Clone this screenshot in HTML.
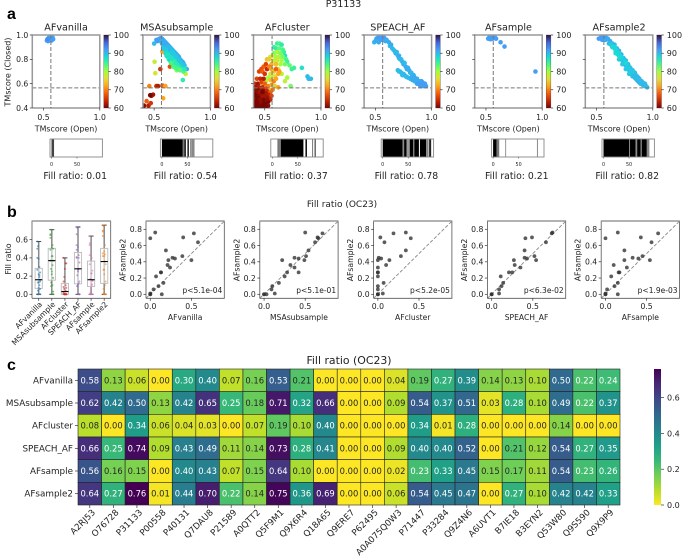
<!DOCTYPE html>
<html>
<head>
<meta charset="utf-8">
<title>Fill ratio figure P31133</title>
<style>
html,body{margin:0;padding:0;background:#fff;width:685px;height:560px;overflow:hidden}
svg{display:block;font-family:"DejaVu Sans","Liberation Sans",sans-serif;filter:blur(0.3px)}
.tag{font-family:"Liberation Sans",sans-serif;font-weight:bold;font-size:16px;fill:#000}
</style>
</head>
<body>
<svg id="fig" xmlns="http://www.w3.org/2000/svg" width="685" height="560" viewBox="0 0 685 560">
<defs id="defs"></defs>
<text class="tag" x="7" y="19">a</text>
<text class="tag" x="7" y="217">b</text>
<text class="tag" x="7" y="370">c</text>
<text x="343.5" y="7" font-size="9.4" text-anchor="middle" fill="#222">P31133</text>
<text x="342" y="207" font-size="9" text-anchor="middle" fill="#222">Fill ratio (OC23)</text>
<text x="349" y="364" font-size="10.9" text-anchor="middle" fill="#222">Fill ratio (OC23)</text>
<text transform="translate(10.5,72) rotate(-90)" font-size="8" text-anchor="middle" fill="#222">TMscore (Closed)</text>
</svg>
<script>
const methods = ['AFvanilla','MSAsubsample','AFcluster','SPEACH_AF','AFsample','AFsample2'];
const proteins = ['A2RJ53','O76728','P31133','P00558','P40131','Q7DAU8','P21589','A0QTT2','Q5F9M1','Q9X6R4','Q18A65','Q9ERE7','P62495','A0A075Q0W3','P71447','P33284','Q9Z4N6','A6UVT1','B7IE18','B3EYN2','Q53W80','Q9S590','Q9X9P9'];
const fillAFvanilla = [.58,.13,.06,.00,.30,.40,.07,.16,.53,.21,.00,.00,.00,.04,.19,.27,.39,.14,.13,.10,.50,.22,.24];
const fillMSAsubsample = [.62,.42,.50,.13,.42,.65,.25,.18,.71,.32,.66,.00,.00,.09,.54,.37,.51,.03,.28,.10,.49,.22,.37];
const fillAFcluster = [.08,.00,.34,.06,.04,.03,.00,.07,.19,.10,.40,.00,.00,.00,.34,.01,.28,.00,.00,.00,.14,.00,.00];
const fillSPEACH = [.66,.25,.74,.09,.43,.49,.11,.14,.73,.28,.41,.00,.00,.09,.40,.40,.52,.00,.21,.12,.54,.27,.35];
const fillAFsample = [.56,.16,.15,.00,.40,.43,.07,.15,.64,.10,.00,.00,.00,.02,.23,.33,.45,.15,.17,.11,.54,.23,.26];
const fillAFsample2 = [.64,.27,.76,.01,.44,.70,.22,.14,.75,.36,.69,.00,.00,.06,.54,.45,.47,.00,.27,.10,.42,.42,.33];
const fillRatioLabels = ['0.01','0.54','0.37','0.78','0.21','0.82'];
const pValues = ['p<5.1e-04','p<5.1e-01','p<5.2e-05','p<6.3e-02','p<1.9e-03'];
const referenceTM = [0.565];
const tmTicks = [0.5,1.0];
const tmYTicks = [0.4,0.6,0.8,1.0];
const plddtTicks = [60,70,80,90,100];
const stripTicks = [0,50];
const boxTicks = [0,0.2,0.4,0.6];
const scatterXTicks = [0,0.5];
const scatterYTicks = [0,0.2,0.4,0.6,0.8];
const heatBarTicks = [0,0.2,0.4,0.6];

/* [TMscore open, TMscore closed, pLDDT] */
const vanillaModels = [[.53,.955,92],[.54,.97,92],[.55,.96,92],[.56,.975,92],[.57,.97,92],[.58,.98,91],[.55,.98,92],[.54,.95,92],[.57,.955,92],[.535,.965,93],[.565,.985,92],[.585,.965,92]];
const msaModels = [[.52,.96,92],[.54,.965,92],[.55,.97,92],[.56,.975,92],[.53,.95,92],[.57,.97,91],[.58,.96,91],[.59,.95,91],[.6,.94,91],[.61,.93,91],[.62,.92,91],[.63,.91,91],[.64,.9,91],[.65,.89,90],[.66,.88,90],[.67,.87,90],[.68,.86,90],[.69,.85,91],[.7,.84,91],[.71,.83,91],[.72,.82,91],[.73,.8,91],[.74,.79,90],[.75,.78,91],[.76,.77,91],[.77,.75,90],[.79,.72,91],[.57,.93,91],[.58,.91,90],[.59,.9,90],[.6,.89,89],[.61,.88,89],[.62,.86,88],[.63,.85,89],[.64,.84,88],[.65,.83,89],[.66,.82,88],[.67,.81,87],[.68,.8,88],[.69,.79,88],[.7,.78,88],[.71,.77,89],[.72,.76,88],[.59,.87,89],[.6,.85,88],[.61,.83,87],[.62,.82,88],[.63,.8,86],[.64,.79,88],[.66,.78,86],[.67,.76,85],[.68,.77,87],[.7,.75,85],[.73,.74,85],[.75,.71,86],[.5,.93,90],[.573,.864,72],[.504,.78,78],[.555,.72,65],[.51,.686,77],[.64,.74,67],[.70,.71,81],[.755,.63,86],[.78,.68,78],[.68,.78,75],[.457,.58,70],[.433,.457,68],[.41,.42,61],[.45,.42,63],[.47,.44,65],[.475,.50,62],[.49,.51,62],[.52,.58,64],[.535,.58,63],[.573,.585,68],[.6,.58,72],[.58,.48,72],[.465,.505,60],[.56,.95,91],[.58,.94,91],[.6,.92,91],[.62,.9,90],[.64,.88,90],[.66,.86,89],[.68,.84,89],[.7,.82,89],[.72,.79,89],[.74,.77,89],[.76,.75,89],[.6,.875,88],[.62,.84,87],[.64,.82,87],[.66,.8,87],[.68,.78,86],[.7,.76,86],[.72,.74,86],[.74,.72,86],[.65,.77,84],[.67,.74,84],[.69,.73,84],[.71,.72,84],[.73,.71,83],[.76,.7,84],[.77,.72,86],[.58,.89,89],[.59,.885,89]];
const clusterModels = [[.58,.9,85],[.61,.93,85],[.63,.93,84],[.65,.92,86],[.6,.89,86],[.63,.89,83],[.66,.88,84],[.67,.86,85],[.58,.85,82],[.61,.86,80],[.64,.85,82],[.68,.83,87],[.55,.82,76],[.57,.83,78],[.6,.82,80],[.63,.82,79],[.66,.82,82],[.69,.8,84],[.52,.8,74],[.54,.8,75],[.58,.79,77],[.61,.79,77],[.65,.79,80],[.7,.78,85],[.68,.76,82],[.72,.75,83],[.64,.76,80],[.6,.76,74],[.56,.76,73],[.74,.72,85],[.76,.73,85],[.83,.73,87],[.88,.66,90],[.89,.64,90],[.91,.64,90],[.73,.58,82],[.68,.62,78],[.7,.65,80],[.65,.68,78],[.62,.72,76],[.63,.7,72],[.49,.74,68],[.51,.76,66],[.47,.72,67],[.45,.7,66],[.48,.7,68],[.52,.72,64],[.5,.68,65],[.54,.74,70],[.56,.72,72],[.58,.7,74],[.6,.72,68],[.62,.68,72],[.55,.68,76],[.57,.66,78],[.59,.66,76],[.53,.65,80],[.51,.62,78],[.55,.63,74],[.58,.62,70],[.6,.64,72],[.43,.64,66],[.46,.64,64],[.49,.64,63],[.41,.6,64],[.44,.6,62],[.47,.61,66],[.5,.6,68],[.53,.58,70],[.56,.59,72],[.59,.58,75],[.62,.57,72],[.42,.57,62],[.45,.57,63],[.48,.57,64],[.51,.56,66],[.54,.55,74],[.41,.54,60],[.43,.55,61],[.45,.54,60],[.47,.55,62],[.49,.54,61],[.52,.54,64],[.55,.53,68],[.57,.55,70],[.41,.52,61],[.43,.52,60],[.45,.51,60],[.47,.52,61],[.49,.51,60],[.51,.52,62],[.53,.51,63],[.56,.5,66],[.41,.49,60],[.43,.49,60],[.45,.49,61],[.47,.49,60],[.49,.48,60],[.51,.49,61],[.53,.48,62],[.55,.47,64],[.41,.47,61],[.43,.46,60],[.45,.46,60],[.47,.46,60],[.49,.46,60],[.51,.46,61],[.53,.45,60],[.41,.44,60],[.43,.44,60],[.45,.43,60],[.47,.44,61],[.49,.43,60],[.51,.43,60],[.53,.42,61],[.41,.41,60],[.43,.41,60],[.45,.41,60],[.47,.41,60],[.49,.41,60],[.51,.41,60],[.44,.48,60],[.46,.47,61],[.48,.5,62],[.5,.47,60],[.52,.47,61],[.44,.53,61],[.46,.53,62],[.48,.53,60],[.5,.5,62]];
const speachModels = [[.49,.94,90],[.5,.95,91],[.51,.97,91],[.52,.975,92],[.53,.985,92],[.55,.99,92],[.57,.985,92],[.58,.975,92],[.6,.96,91],[.62,.94,91],[.53,.94,91],[.54,.96,92],[.56,.96,92],[.63,.91,90],[.65,.89,90],[.67,.87,91],[.68,.85,91],[.7,.83,90],[.71,.81,90],[.72,.8,90],[.74,.78,91],[.75,.76,91],[.77,.74,91],[.78,.72,91],[.8,.71,91],[.81,.69,91],[.83,.67,92],[.85,.65,91],[.86,.64,91],[.88,.62,91],[.9,.6,92],[.92,.59,92],[.93,.58,92],[.94,.6,92],[.91,.62,91],[.89,.61,91],[.7,.71,90],[.71,.7,90],[.73,.69,90],[.75,.68,90],[.77,.66,91],[.79,.65,91],[.81,.64,90],[.83,.63,91],[.85,.62,91],[.87,.6,91],[.9,.58,92],[.64,.92,91],[.66,.88,90],[.69,.86,90],[.71,.83,91],[.73,.8,90],[.76,.77,90],[.79,.73,91],[.82,.69,90],[.84,.67,91],[.87,.64,91],[.89,.62,91],[.92,.61,92],[.52,.95,91],[.55,.97,92],[.59,.95,91],[.76,.67,90],[.78,.655,90],[.82,.65,91],[.84,.64,91],[.88,.6,92],[.91,.58,92],[.95,.58,92],[.72,.7,90],[.74,.67,90]];
const sampleModels = [[.52,.97,92],[.53,.98,92],[.55,.99,92],[.57,.99,92],[.58,.98,92],[.59,.97,92],[.56,.97,92],[.54,.965,92],[.63,.94,92],[.665,.905,92],[.94,.70,92]];
const sample2Models = [[.52,.97,92],[.54,.98,92],[.56,.99,92],[.58,.985,92],[.6,.97,91],[.62,.95,91],[.64,.93,90],[.65,.91,90],[.66,.89,89],[.67,.87,89],[.68,.86,90],[.69,.84,89],[.7,.83,89],[.71,.81,90],[.72,.8,90],[.73,.79,90],[.74,.78,90],[.75,.76,90],[.76,.75,90],[.77,.74,90],[.78,.73,90],[.79,.71,90],[.8,.7,90],[.81,.69,89],[.82,.68,90],[.83,.66,90],[.84,.65,90],[.85,.64,90],[.86,.63,91],[.87,.62,91],[.88,.61,91],[.89,.6,90],[.9,.6,90],[.91,.59,90],[.93,.58,90],[.95,.57,90],[.66,.92,90],[.68,.89,90],[.7,.87,91],[.72,.84,91],[.74,.81,90],[.76,.79,90],[.78,.76,91],[.8,.73,91],[.82,.71,91],[.84,.69,91],[.86,.66,91],[.88,.64,91],[.9,.62,91],[.92,.6,91],[.55,.96,92],[.58,.96,91],[.61,.93,90],[.64,.9,89],[.67,.85,88],[.7,.8,89],[.73,.76,89],[.76,.72,89],[.79,.68,89],[.82,.66,90],[.63,.92,89],[.65,.9,87],[.67,.88,87],[.69,.85,87],[.71,.82,87],[.73,.81,89],[.75,.78,89],[.77,.76,89],[.79,.74,89],[.81,.71,88],[.83,.69,89],[.85,.67,89],[.87,.65,90],[.89,.62,90],[.91,.61,90],[.93,.6,90],[.94,.58,90],[.66,.9,88],[.68,.87,88],[.7,.85,88],[.72,.82,88],[.74,.79,89],[.76,.77,88],[.78,.74,89],[.8,.72,89],[.82,.7,89],[.84,.67,90],[.86,.65,90],[.88,.63,90],[.9,.61,90]];
const modelSets = [vanillaModels,msaModels,clusterModels,speachModels,sampleModels,sample2Models];

/* [first residue, last residue, grey level] for each coverage barcode */
const stripVanilla = [[0,5,'#444']];
const stripMsa = [[0,41,'#000'],[41,44,'#777'],[44,47,'#111'],[50,53,'#222'],[56,58,'#333'],[59,64,'#888']];
const stripCluster = [[10,15,'#777'],[16,61,'#000'],[65,68,'#111'],[78,80,'#777'],[83,85,'#222']];
const stripSpeach = [[0,39,'#000'],[39,42,'#888'],[42,47,'#000'],[47,53,'#999'],[53,60,'#000'],[60,62,'#888'],[62,71,'#000'],[73,85,'#000'],[85,90,'#888'],[91,95,'#222']];
const stripSample = [[0,7,'#000'],[7,12,'#777'],[24,25.5,'#777'],[86,87.5,'#666']];
const stripSample2 = [[0,50,'#000'],[50,52,'#888'],[52,63,'#000'],[63,66,'#888'],[66,73,'#000'],[73,75,'#888'],[75,85,'#000'],[85,90,'#888']];
const stripSets = [stripVanilla,stripMsa,stripCluster,stripSpeach,stripSample,stripSample2];

const boxColors = ['#1f77b4','#2ca02c','#d62728','#9467bd','#e377c2','#ff7f0e'];
const fillRows = [fillAFvanilla,fillMSAsubsample,fillAFcluster,fillSPEACH,fillAFsample,fillAFsample2];

const turboStops = ['#30123b','#4662d8','#449df7','#19d9d9','#46f884','#a4fc3c','#e1dd37','#fea31c','#f25c0d','#c72803','#7a0403'];
const viridisStops = ['#fde725','#b5de2b','#6ece58','#35b779','#1f9e89','#26828e','#31688e','#3e4989','#482878','#440154'];

const svg = document.getElementById('fig');
const defs = document.getElementById('defs');
const NS = 'http://www.w3.org/2000/svg';
const INK = '#222';

function node(parent, tag, attrs, name) {
  const el = document.createElementNS(NS, tag);
  
  
  for (const k in attrs) {
    el.setAttribute(k, attrs[k]);
  }
  parent.appendChild(el);
  return el;
}
function label(parent, x, y, str, size, anchor, name, extra) {
  const el = node(parent, 'text', Object.assign({x: x, y: y, 'font-size': size, 'text-anchor': anchor, fill: INK}, extra || {}), name);
  el.textContent = str;
  return el;
}
function scale(d0, d1, r0, r1) {
  return function (v) { return r0 + (v - d0) / (d1 - d0) * (r1 - r0); };
}
function hex(c) { return [1,3,5].map(function (i) { return parseInt(c.substr(i, 2), 16); }); }
function ramp(stops, t) {
  t = Math.max(0, Math.min(1, t)) * (stops.length - 1);
  const i = Math.min(stops.length - 2, Math.floor(t));
  const a = hex(stops[i]);
  const b = hex(stops[i + 1]);
  const f = t - i;
  return 'rgb(' + a.map(function (v, k) { return Math.round(v + (b[k] - v) * f); }).join(',') + ')';
}
function gradient(id, stops, name) {
  const g = node(defs, 'linearGradient', {id: id, x1: 0, y1: 1, x2: 0, y2: 0}, name);
  stops.forEach(function (s, i) {
    node(g, 'stop', {offset: i / (stops.length - 1), 'stop-color': s}, name + '-stop');
  });
}
function quantile(values, q) {
  const s = values.slice().sort(function (a, b) { return a - b; });
  const p = (s.length - 1) * q;
  const i = Math.floor(p);
  return s[i] + (s[Math.min(i + 1, s.length - 1)] - s[i]) * (p - i);
}
gradient('turbo-grad', turboStops.slice().reverse(), 'turbo-gradient');
gradient('viridis-grad', viridisStops, 'viridis-gradient');

/* ---------- panel a ---------- */
methods.forEach(function (m, i) {
  const slug = m.toLowerCase().replace('_', '-');
  const g = node(svg, 'g', {}, 'tmscore-panel-' + slug);
  const L = 32.3 + i * 110.6, R = L + 67.5, T = 35, B = 108;
  const x = scale(0.4, 1.0, L, R);
  const y = scale(0.4, 1.0, B, T);
  const clip = node(defs, 'clipPath', {id: 'clip-a' + i}, 'clip-' + slug);
  node(clip, 'rect', {x: L, y: T, width: R - L, height: B - T}, 'clip-rect');
  label(g, (L + R) / 2, 30.5, m, 9.6, 'middle', 'panel-title');
  const dots = node(g, 'g', {'clip-path': 'url(#clip-a' + i + ')'}, 'model-points');
  modelSets[i].forEach(function (p) {
    node(dots, 'circle', {cx: x(p[0]), cy: y(p[1]), r: 2.3, fill: ramp(turboStops, (100 - p[2]) / 40)}, 'model-point');
  });
  node(g, 'line', {x1: x(referenceTM[0]), x2: x(referenceTM[0]), y1: T, y2: B, stroke: '#777', 'stroke-width': 1, 'stroke-dasharray': '4 2'}, 'open-reference-line');
  node(g, 'line', {x1: L, x2: R, y1: y(referenceTM[0]), y2: y(referenceTM[0]), stroke: '#777', 'stroke-width': 1, 'stroke-dasharray': '4 2'}, 'closed-reference-line');
  node(g, 'path', {d: 'M' + L + ' ' + B + 'V' + T + 'H' + R + 'V' + B, fill: 'none', stroke: '#999', 'stroke-width': 1.5}, 'axes-frame');
  node(g, 'line', {x1: L, x2: R, y1: B, y2: B, stroke: '#333', 'stroke-width': 0.8}, 'x-axis-line');
  tmTicks.forEach(function (t) {
    node(g, 'line', {x1: x(t), x2: x(t), y1: B, y2: B + 2.5, stroke: '#333', 'stroke-width': 0.7}, 'x-tick');
    label(g, x(t), 120, t.toFixed(1), 7.7, 'middle', 'x-tick-label');
  });
  tmYTicks.forEach(function (t) {
    node(g, 'line', {x1: L - 2.5, x2: L, y1: y(t), y2: y(t), stroke: '#333', 'stroke-width': 0.7}, 'y-tick');
    if (i === 0) {
      label(g, L - 4, y(t) + 2.8, t.toFixed(1), 7.7, 'end', 'y-tick-label');
    }
  });
  label(g, (L + R) / 2, 131.5, 'TMscore (Open)', 7.9, 'middle', 'x-axis-title');
  /* pLDDT colour bar */
  const cbx = R + 4;
  const cby = scale(60, 100, B, T);
  node(g, 'rect', {x: cbx, y: T, width: 4.7, height: B - T, fill: 'url(#turbo-grad)', stroke: '#333', 'stroke-width': 0.3}, 'plddt-colorbar');
  plddtTicks.forEach(function (t) {
    node(g, 'line', {x1: cbx + 4.7, x2: cbx + 7, y1: cby(t), y2: cby(t), stroke: '#333', 'stroke-width': 0.7}, 'colorbar-tick');
    label(g, cbx + 10, cby(t) + 2.8, String(t), 8, 'start', 'colorbar-tick-label');
  });
  /* coverage barcode */
  const sL = 50 + i * 110.4, sW = 52.4;
  const sx = scale(0, 100, sL + 1.5, sL + 1.5 + 51);
  stripSets[i].forEach(function (s) {
    node(g, 'rect', {x: sx(s[0]), y: 139, width: sx(s[1]) - sx(s[0]), height: 18, fill: s[2]}, 'coverage-band');
  });
  node(g, 'rect', {x: sL, y: 139, width: sW, height: 18, fill: 'none', stroke: '#888', 'stroke-width': 0.9}, 'coverage-frame');
  stripTicks.forEach(function (t) {
    node(g, 'line', {x1: sx(t), x2: sx(t), y1: 157, y2: 158.5, stroke: '#333', 'stroke-width': 0.5}, 'coverage-tick');
    label(g, sx(t), 166, String(t), 4.8, 'middle', 'coverage-tick-label');
  });
  label(g, sL + sW / 2 - 1, 179, 'Fill ratio: ' + fillRatioLabels[i], 9.3, 'middle', 'fill-ratio-label');
});

/* ---------- panel b : box plot ---------- */
(function () {
  const g = node(svg, 'g', {}, 'fill-ratio-boxplot');
  const L = 32, R = 110.7, T = 221, B = 298.3;
  const y = scale(0, 0.6, 294.3, 239.7);
  methods.forEach(function (m, i) {
    const cx = 38.7 + i * 13.1;
    const v = fillRows[i];
    const q1 = quantile(v, .25), q2 = quantile(v, .5), q3 = quantile(v, .75);
    const hi = Math.max.apply(null, v), lo = Math.min.apply(null, v);
    node(g, 'line', {x1: cx, x2: cx, y1: y(lo), y2: y(hi), stroke: '#888', 'stroke-width': 1.5}, 'box-whisker');
    node(g, 'line', {x1: cx - 2.5, x2: cx + 2.5, y1: y(hi), y2: y(hi), stroke: '#333', 'stroke-width': 0.9}, 'box-cap-high');
    node(g, 'line', {x1: cx - 2.5, x2: cx + 2.5, y1: y(lo), y2: y(lo), stroke: '#333', 'stroke-width': 0.9}, 'box-cap-low');
    node(g, 'rect', {x: cx - 3.6, y: y(q3), width: 7.2, height: y(q1) - y(q3), fill: '#fff', 'fill-opacity': 0.55, stroke: '#bbb', 'stroke-width': 0.9}, 'box-body');
    v.forEach(function (val, k) {
      const off = ((k * 7) % 5 - 2) * 0.7;
      node(g, 'circle', {cx: cx + off, cy: y(val), r: 1, fill: boxColors[i], 'fill-opacity': 0.6}, 'box-point');
    });
    node(g, 'line', {x1: cx - 3.6, x2: cx + 3.6, y1: y(q2), y2: y(q2), stroke: '#000', 'stroke-width': 1.1}, 'box-median');
    node(g, 'line', {x1: cx, x2: cx, y1: B, y2: B + 2.5, stroke: '#333', 'stroke-width': 0.7}, 'x-tick');
    label(g, 0, 0, m, 7.6, 'end', 'method-tick-label', {transform: 'translate(' + (cx + 4) + ',' + (B + 6.5) + ') rotate(-45)'});
  });
  node(g, 'path', {d: 'M' + L + ' ' + B + 'V' + T + 'H' + R + 'V' + B + 'H' + L, fill: 'none', stroke: '#555', 'stroke-width': 0.8}, 'axes-frame');
  node(g, 'line', {x1: L, x2: R, y1: T, y2: T, stroke: '#999', 'stroke-width': 1.4}, 'axes-top');
  boxTicks.forEach(function (t) {
    node(g, 'line', {x1: L - 2.5, x2: L, y1: y(t), y2: y(t), stroke: '#333', 'stroke-width': 0.7}, 'y-tick');
    label(g, L - 4, y(t) + 2.8, t.toFixed(1), 7.7, 'end', 'y-tick-label');
  });
  label(g, 0, 0, 'Fill ratio', 7.9, 'middle', 'y-axis-title', {transform: 'translate(11,259) rotate(-90)'});
})();

/* ---------- panel b : scatter comparisons ---------- */
methods.slice(0, 5).forEach(function (m, i) {
  const g = node(svg, 'g', {}, 'comparison-scatter-' + m.toLowerCase().replace('_', '-'));
  const L = 146 + i * 113.8, R = L + 78.3, T = 221, B = 298.3;
  const x = scale(-0.052, 0.9, L, R);
  const y = scale(0, 0.8, 294.3, 229.3);
  const yTop = 0.9;
  node(g, 'line', {x1: x(-0.052), y1: y(-0.049), x2: x(0.9), y2: y(yTop), stroke: '#888', 'stroke-width': 0.9, 'stroke-dasharray': '3.5 1.8'}, 'identity-line');
  fillRows[i].forEach(function (v, k) {
    node(g, 'circle', {cx: x(v), cy: y(fillAFsample2[k]), r: 1.9, fill: '#333', 'fill-opacity': 0.8}, 'protein-point');
  });
  node(g, 'path', {d: 'M' + L + ' ' + B + 'V' + T + 'H' + R + 'V' + B + 'H' + L, fill: 'none', stroke: '#555', 'stroke-width': 0.8}, 'axes-frame');
  node(g, 'line', {x1: L, x2: R, y1: T, y2: T, stroke: '#999', 'stroke-width': 1.6}, 'axes-top');
  scatterXTicks.forEach(function (t) {
    node(g, 'line', {x1: x(t), x2: x(t), y1: B, y2: B + 2.5, stroke: '#333', 'stroke-width': 0.7}, 'x-tick');
    label(g, x(t), 309, t.toFixed(1), 7.7, 'middle', 'x-tick-label');
  });
  scatterYTicks.forEach(function (t) {
    node(g, 'line', {x1: L - 2.5, x2: L, y1: y(t), y2: y(t), stroke: '#333', 'stroke-width': 0.7}, 'y-tick');
    label(g, L - 4, y(t) + 2.8, t.toFixed(1), 7.7, 'end', 'y-tick-label');
  });
  label(g, (L + R) / 2, 320, m, 7.6, 'middle', 'x-axis-title');
  label(g, 0, 0, 'AFsample2', 7.7, 'middle', 'y-axis-title', {transform: 'translate(' + (L - 20.5) + ',260) rotate(-90)'});
  label(g, R - 2, 293, pValues[i], 7.5, 'end', 'p-value');
});

/* ---------- panel c : heatmap ---------- */
(function () {
  const g = node(svg, 'g', {}, 'fill-ratio-heatmap');
  const L = 78, T = 369, W = 542, H = 136;
  const maxFill = 0.76;
  const cw = W / proteins.length, ch = H / methods.length;
  fillRows.forEach(function (row, r) {
    row.forEach(function (v, c) {
      node(g, 'rect', {x: L + c * cw, y: T + r * ch, width: cw, height: ch, fill: ramp(viridisStops, v / maxFill), stroke: '#222', 'stroke-width': 0.6}, 'heatmap-cell');
      label(g, L + (c + .5) * cw, T + (r + .5) * ch + 3, v.toFixed(2), 8.4, 'middle', 'cell-value', {fill: v >= 0.215 ? '#fff' : '#262626'});
    });
  });
  methods.forEach(function (m, r) {
    const cy = T + (r + .5) * ch;
    node(g, 'line', {x1: L - 3, x2: L, y1: cy, y2: cy, stroke: '#333', 'stroke-width': 0.7}, 'row-tick');
    label(g, L - 5, cy + 3, m, 8.8, 'end', 'row-label');
  });
  proteins.forEach(function (p, c) {
    const cx = L + (c + .5) * cw;
    node(g, 'line', {x1: cx, x2: cx, y1: T + H, y2: T + H + 3, stroke: '#333', 'stroke-width': 0.7}, 'column-tick');
    label(g, 0, 0, p, 8.7, 'end', 'column-label', {transform: 'translate(' + (cx + 6) + ',' + (T + H + 8) + ') rotate(-45)'});
  });
  const by = scale(0, maxFill, T + H, T);
  node(g, 'rect', {x: 654, y: T, width: 7, height: H, fill: 'url(#viridis-grad)'}, 'fill-ratio-colorbar');
  heatBarTicks.forEach(function (t) {
    node(g, 'line', {x1: 661, x2: 664, y1: by(t), y2: by(t), stroke: '#333', 'stroke-width': 0.7}, 'colorbar-tick');
    label(g, 667, by(t) + 3, t.toFixed(1), 8, 'start', 'colorbar-tick-label');
  });
})();
</script>
</body>
</html>
